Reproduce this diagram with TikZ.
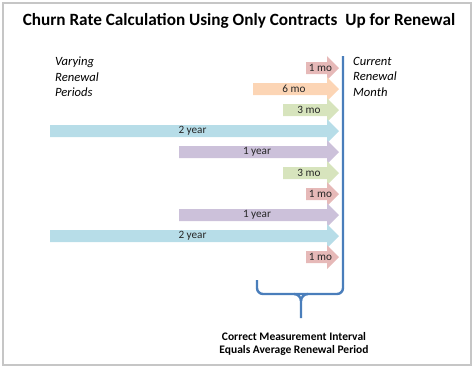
\documentclass[tikz,border=0pt]{standalone}
\usepackage{fontspec}
\setmainfont{Carlito}
\usepackage{tikz}
\usetikzlibrary{calc}
\definecolor{mopink}{RGB}{230,185,184}
\definecolor{moorange}{RGB}{252,213,181}
\definecolor{mogreen}{RGB}{215,228,189}
\definecolor{yrblue}{RGB}{183,221,232}
\definecolor{yrpurple}{RGB}{204,193,218}
\definecolor{bracketblue}{RGB}{74,126,187}
\tikzset{
  title/.style={font=\bfseries\fontsize{17.2}{20}\selectfont, inner sep=0pt},
  side/.style={font=\itshape\fontsize{12.6}{15.5}\selectfont, align=left, inner sep=0pt, anchor=north west},
  barlabel/.style={font=\fontsize{11.2}{13}\selectfont, inner sep=0pt, text=black!85},
  caption/.style={font=\bfseries\fontsize{11.5}{13.5}\selectfont, align=center, inner sep=0pt},
  bracket/.style={draw=bracketblue, line width=2.4pt, rounded corners=6pt}
}

\begin{document}
\begin{tikzpicture}[x=1pt,y=-1pt]
  \useasboundingbox (0,0) rectangle (474,368);
  \draw[gray!45, line width=1.5pt] (3,3) rectangle (471,365);

  \node[title] (head) at (239,21) {Churn Rate Calculation Using Only Contracts\ \ Up for Renewal};
  \node[side] (vary) at (55,57) {Varying\\Renewal\\Periods};
  \node[side] (curr) at (353,57) {Current\\Renewal\\Month};

  % renewal periods, all ending at the current month
  \foreach \x/\y/\c/\t [count=\i] in {306/68/mopink/1 mo, 253/89/moorange/6 mo, 283/110/mogreen/3 mo,
      50/131/yrblue/2 year, 179/152/yrpurple/1 year, 283/173/mogreen/3 mo, 306/194/mopink/1 mo,
      179/215/yrpurple/1 year, 50/236/yrblue/2 year, 306/257/mopink/1 mo} {
    \fill[\c] (\x,\y-6) -- (327,\y-6) -- (327,\y-12) -- (339,\y) -- (327,\y+12) -- (327,\y+6) -- (\x,\y+6) -- cycle;
    \node[barlabel] (bar\i) at ({(\x+339)/2-2},\y) {\t};
  }

  \draw[bracket] (257,280) -- (257,294) -- (343,294) -- (343,56);
  \draw[bracket, rounded corners=0pt] (294,294) to[out=0,in=90] (301,301) -- (301,318);
  \draw[bracket, rounded corners=0pt] (308,294) to[out=180,in=90] (301,301);

  \node[caption] (interval) at (294,344) {Correct Measurement Interval\\Equals Average Renewal Period};
\end{tikzpicture}
\end{document}
